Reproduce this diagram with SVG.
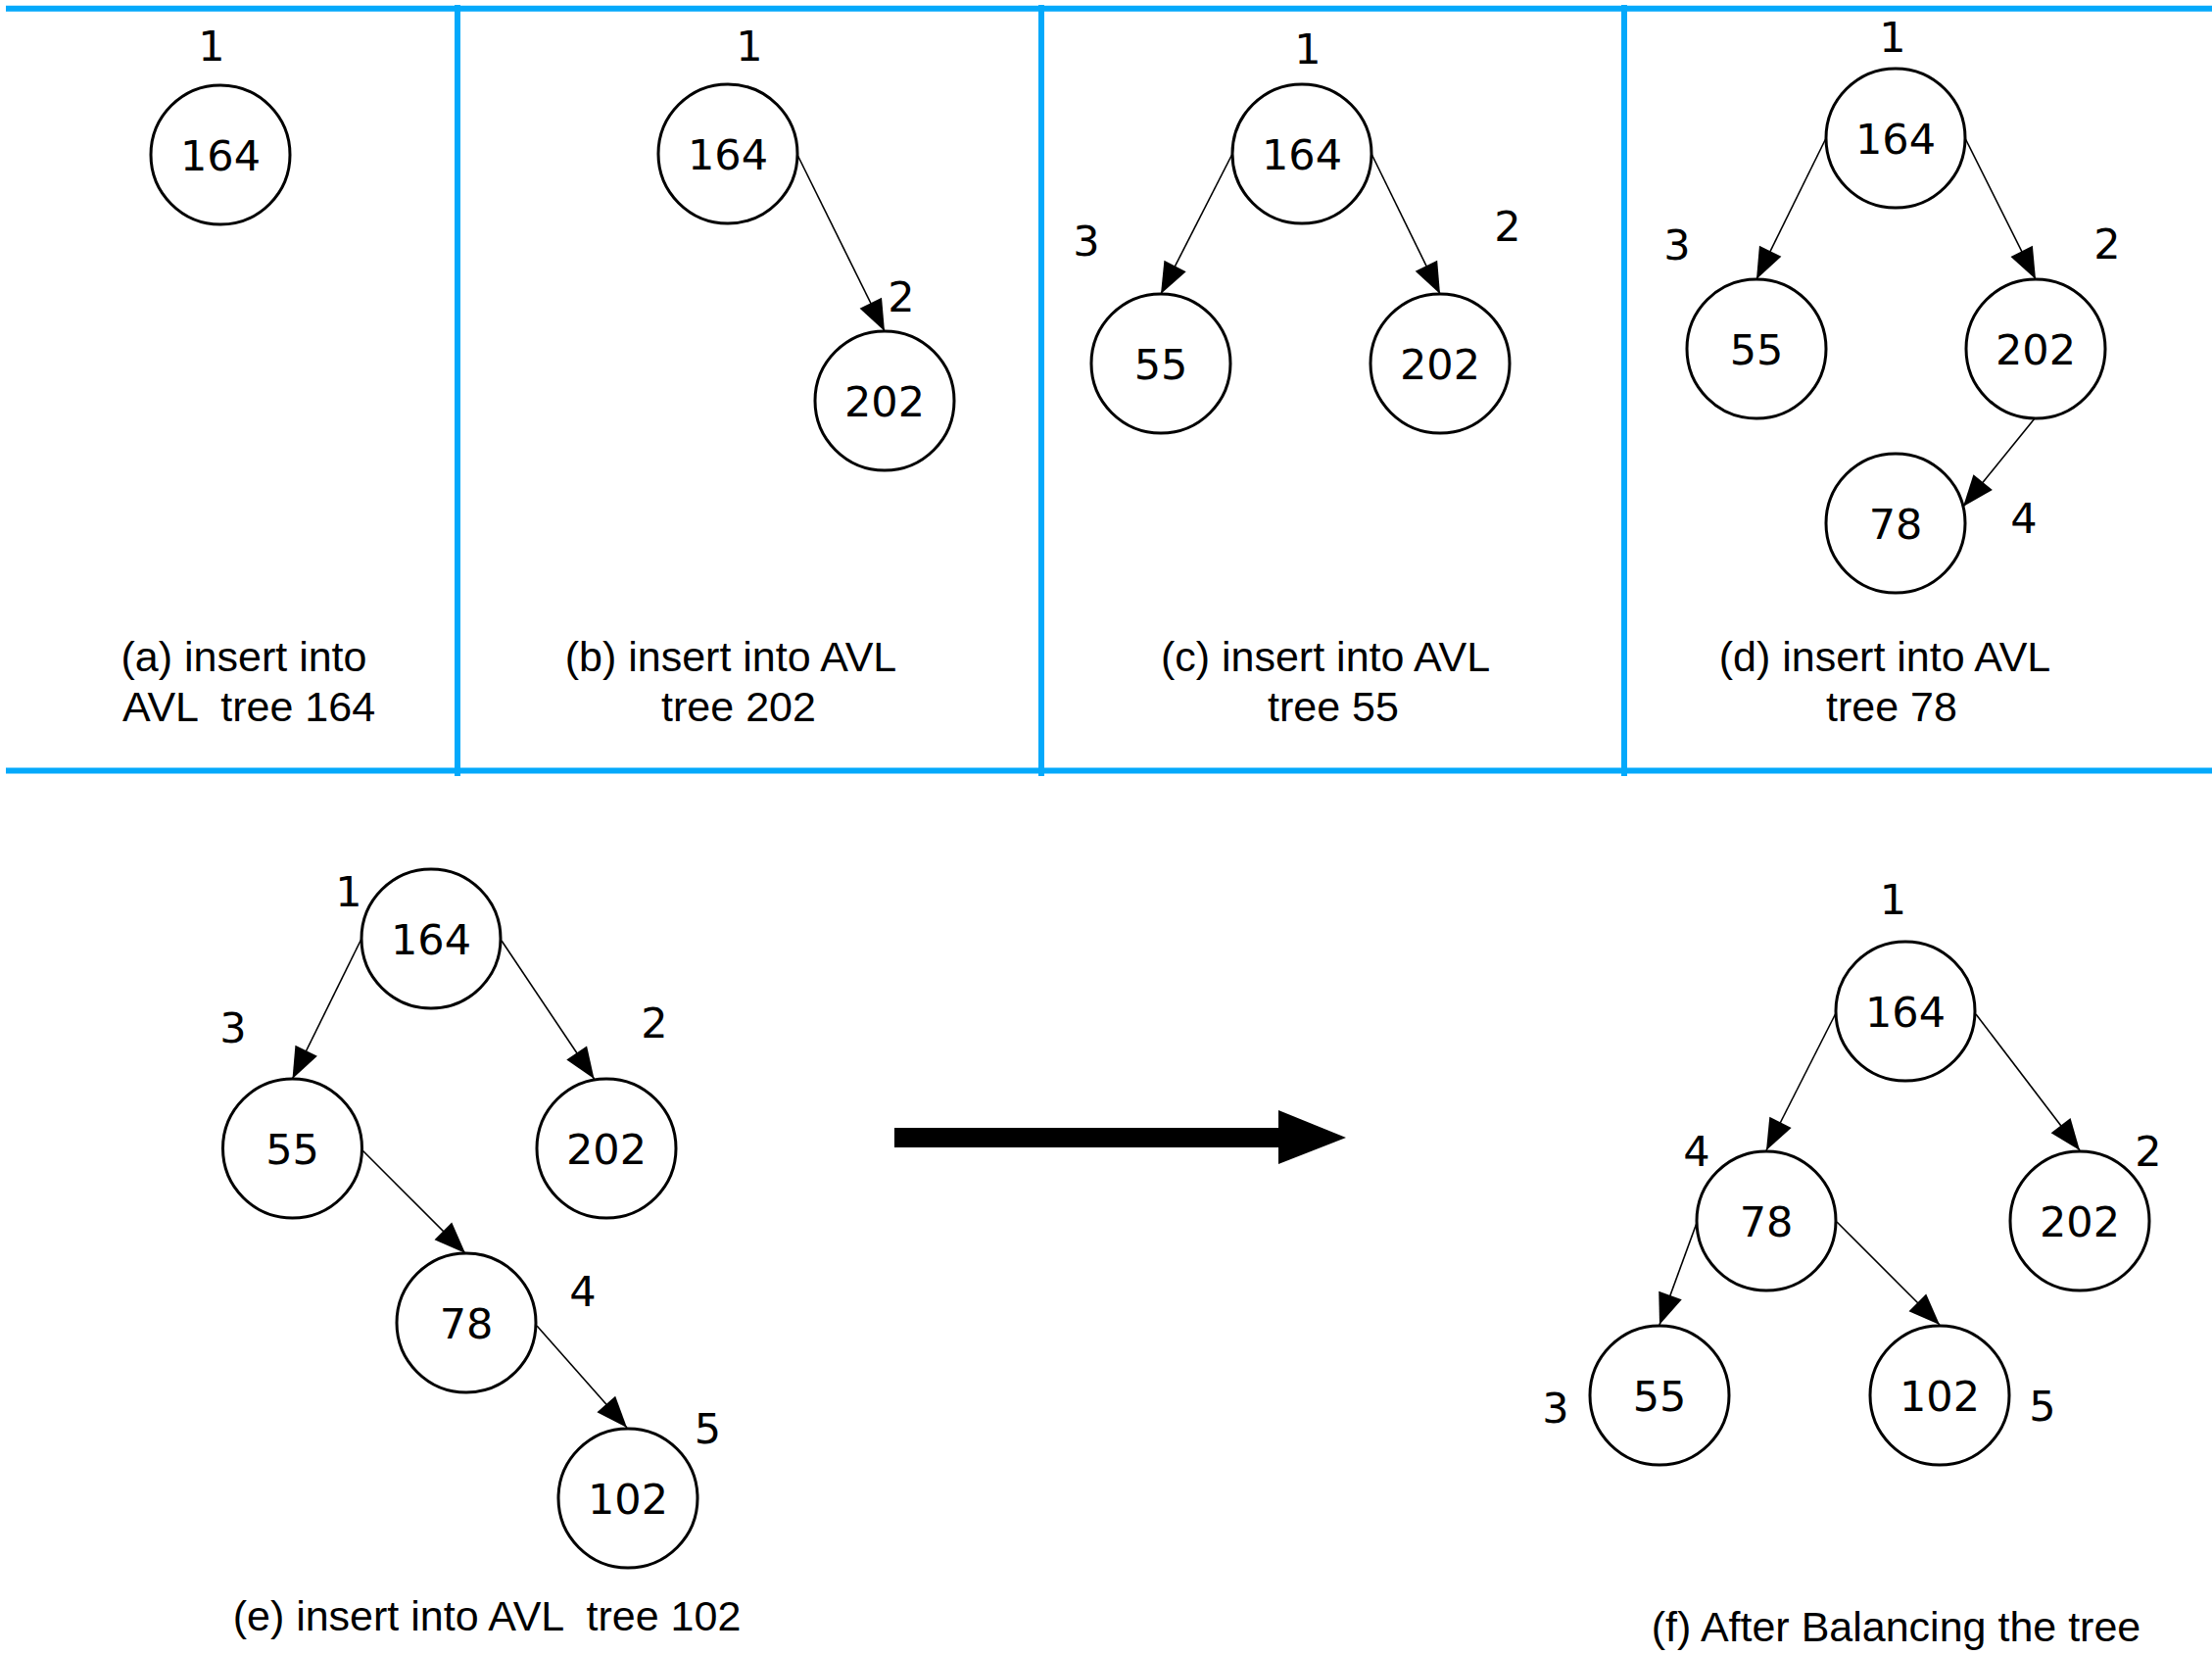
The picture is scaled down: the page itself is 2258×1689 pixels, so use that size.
<svg xmlns="http://www.w3.org/2000/svg" width="2258" height="1689" viewBox="0 0 2258 1689">
<style>
.frame{stroke:#04A9FB;stroke-width:6;fill:none}
.node circle{fill:#fff;stroke:#000;stroke-width:3}
.num{font-family:"DejaVu Sans",sans-serif;font-size:43px;text-anchor:middle;fill:#000}
.cap{font-family:"Liberation Sans",Arial,sans-serif;font-size:43px;text-anchor:middle;fill:#000}
.edge{stroke:#000;stroke-width:1.6;fill:none;marker-end:url(#ah)}
</style>
<defs>
<marker id="ah" markerUnits="userSpaceOnUse" markerWidth="34" markerHeight="26" refX="32" refY="12.5" orient="auto" overflow="visible">
<path d="M0,0 L32,12.5 L0,25 Z" fill="#000"/>
</marker>
</defs>
<rect width="2258" height="1689" fill="#fff"/>
<g id="frame">
<line class="frame" x1="6" y1="8.7" x2="2258" y2="8.7"/>
<line class="frame" x1="6" y1="786.5" x2="2258" y2="786.5"/>
<line class="frame" x1="467" y1="5" x2="467" y2="792"/>
<line class="frame" x1="1063" y1="5" x2="1063" y2="792"/>
<line class="frame" x1="1658" y1="5" x2="1658" y2="792"/>
</g>
<g id="connectors">
<line class="edge" x1="814" y1="158" x2="903" y2="338"/>
<line class="edge" x1="1258" y1="157" x2="1185" y2="300"/>
<line class="edge" x1="1400" y1="157" x2="1470" y2="300"/>
<line class="edge" x1="1864" y1="141" x2="1793" y2="285"/>
<line class="edge" x1="2006" y1="141" x2="2078" y2="285"/>
<line class="edge" x1="2077" y1="427" x2="2004" y2="517"/>
<line class="edge" x1="369" y1="958" x2="298.5" y2="1101"/>
<line class="edge" x1="512" y1="960" x2="606.5" y2="1101"/>
<line class="edge" x1="370" y1="1174" x2="475" y2="1279"/>
<line class="edge" x1="548" y1="1353" x2="640" y2="1457"/>
<line class="edge" x1="1874" y1="1034" x2="1803" y2="1174"/>
<line class="edge" x1="2017" y1="1035" x2="2123" y2="1174"/>
<line class="edge" x1="1732" y1="1248" x2="1694" y2="1352"/>
<line class="edge" x1="1875" y1="1247" x2="1980" y2="1352"/>
</g>
<g id="big-arrow">
<rect x="913" y="1151" width="393" height="20" fill="#000"/>
<polygon points="1305,1133 1374,1161 1305,1188" fill="#000"/>
</g>
<!-- panel a -->
<g id="a-164" class="node"><circle cx="225" cy="158" r="71"/><text class="num" x="225" y="173.7">164</text></g>
<g id="a-labels"><text class="num" x="216" y="62">1</text>
<text class="cap" x="249" y="685">(a) insert into</text><text class="cap" x="254" y="736" xml:space="preserve">AVL  tree 164</text></g>
<!-- panel b -->
<g id="b-164" class="node"><circle cx="743" cy="157" r="71"/><text class="num" x="743" y="172.7">164</text></g>
<g id="b-202" class="node"><circle cx="903" cy="409" r="71"/><text class="num" x="903" y="424.7">202</text></g>
<g id="b-labels"><text class="num" x="765" y="61.5">1</text><text class="num" x="920" y="318">2</text>
<text class="cap" x="746" y="685">(b) insert into AVL</text><text class="cap" x="754" y="736">tree 202</text></g>
<!-- panel c -->
<g id="c-164" class="node"><circle cx="1329" cy="157" r="71"/><text class="num" x="1329" y="172.7">164</text></g>
<g id="c-55" class="node"><circle cx="1185" cy="371" r="71"/><text class="num" x="1185" y="386.7">55</text></g>
<g id="c-202" class="node"><circle cx="1470" cy="371" r="71"/><text class="num" x="1470" y="386.7">202</text></g>
<g id="c-labels"><text class="num" x="1335" y="65">1</text><text class="num" x="1109" y="260.5">3</text><text class="num" x="1539" y="246">2</text>
<text class="cap" x="1353" y="685">(c) insert into AVL</text><text class="cap" x="1361" y="736">tree 55</text></g>
<!-- panel d -->
<g id="d-164" class="node"><circle cx="1935" cy="141" r="71"/><text class="num" x="1935" y="156.7">164</text></g>
<g id="d-55" class="node"><circle cx="1793" cy="356" r="71"/><text class="num" x="1793" y="371.7">55</text></g>
<g id="d-202" class="node"><circle cx="2078" cy="356" r="71"/><text class="num" x="2078" y="371.7">202</text></g>
<g id="d-78" class="node"><circle cx="1935" cy="534" r="71"/><text class="num" x="1935" y="549.7">78</text></g>
<g id="d-labels"><text class="num" x="1932" y="53">1</text><text class="num" x="1712" y="265">3</text><text class="num" x="2151" y="263.5">2</text><text class="num" x="2066" y="543.5">4</text>
<text class="cap" x="1924" y="685">(d) insert into AVL</text><text class="cap" x="1931" y="736">tree 78</text></g>
<!-- panel e -->
<g id="e-164" class="node"><circle cx="440" cy="958" r="71"/><text class="num" x="440" y="973.7">164</text></g>
<g id="e-55" class="node"><circle cx="298.5" cy="1172" r="71"/><text class="num" x="298.5" y="1187.7">55</text></g>
<g id="e-202" class="node"><circle cx="619" cy="1172" r="71"/><text class="num" x="619" y="1187.7">202</text></g>
<g id="e-78" class="node"><circle cx="476" cy="1350" r="71"/><text class="num" x="476" y="1365.7">78</text></g>
<g id="e-102" class="node"><circle cx="641" cy="1529" r="71"/><text class="num" x="641" y="1544.7">102</text></g>
<g id="e-labels"><text class="num" x="356" y="925">1</text><text class="num" x="238" y="1064">3</text><text class="num" x="668" y="1059">2</text><text class="num" x="595" y="1333">4</text><text class="num" x="722.5" y="1473">5</text>
<text class="cap" x="497" y="1664" xml:space="preserve">(e) insert into AVL  tree 102</text></g>
<!-- panel f -->
<g id="f-164" class="node"><circle cx="1945" cy="1032" r="71"/><text class="num" x="1945" y="1047.7">164</text></g>
<g id="f-78" class="node"><circle cx="1803" cy="1246" r="71"/><text class="num" x="1803" y="1261.7">78</text></g>
<g id="f-202" class="node"><circle cx="2123" cy="1246" r="71"/><text class="num" x="2123" y="1261.7">202</text></g>
<g id="f-55" class="node"><circle cx="1694" cy="1424" r="71"/><text class="num" x="1694" y="1439.7">55</text></g>
<g id="f-102" class="node"><circle cx="1980" cy="1424" r="71"/><text class="num" x="1980" y="1439.7">102</text></g>
<g id="f-labels"><text class="num" x="1932.5" y="933">1</text><text class="num" x="1732" y="1190">4</text><text class="num" x="2193" y="1190">2</text><text class="num" x="1588" y="1452">3</text><text class="num" x="2085" y="1449.5">5</text>
<text class="cap" x="1935.5" y="1675">(f) After Balancing the tree</text></g>
</svg>
